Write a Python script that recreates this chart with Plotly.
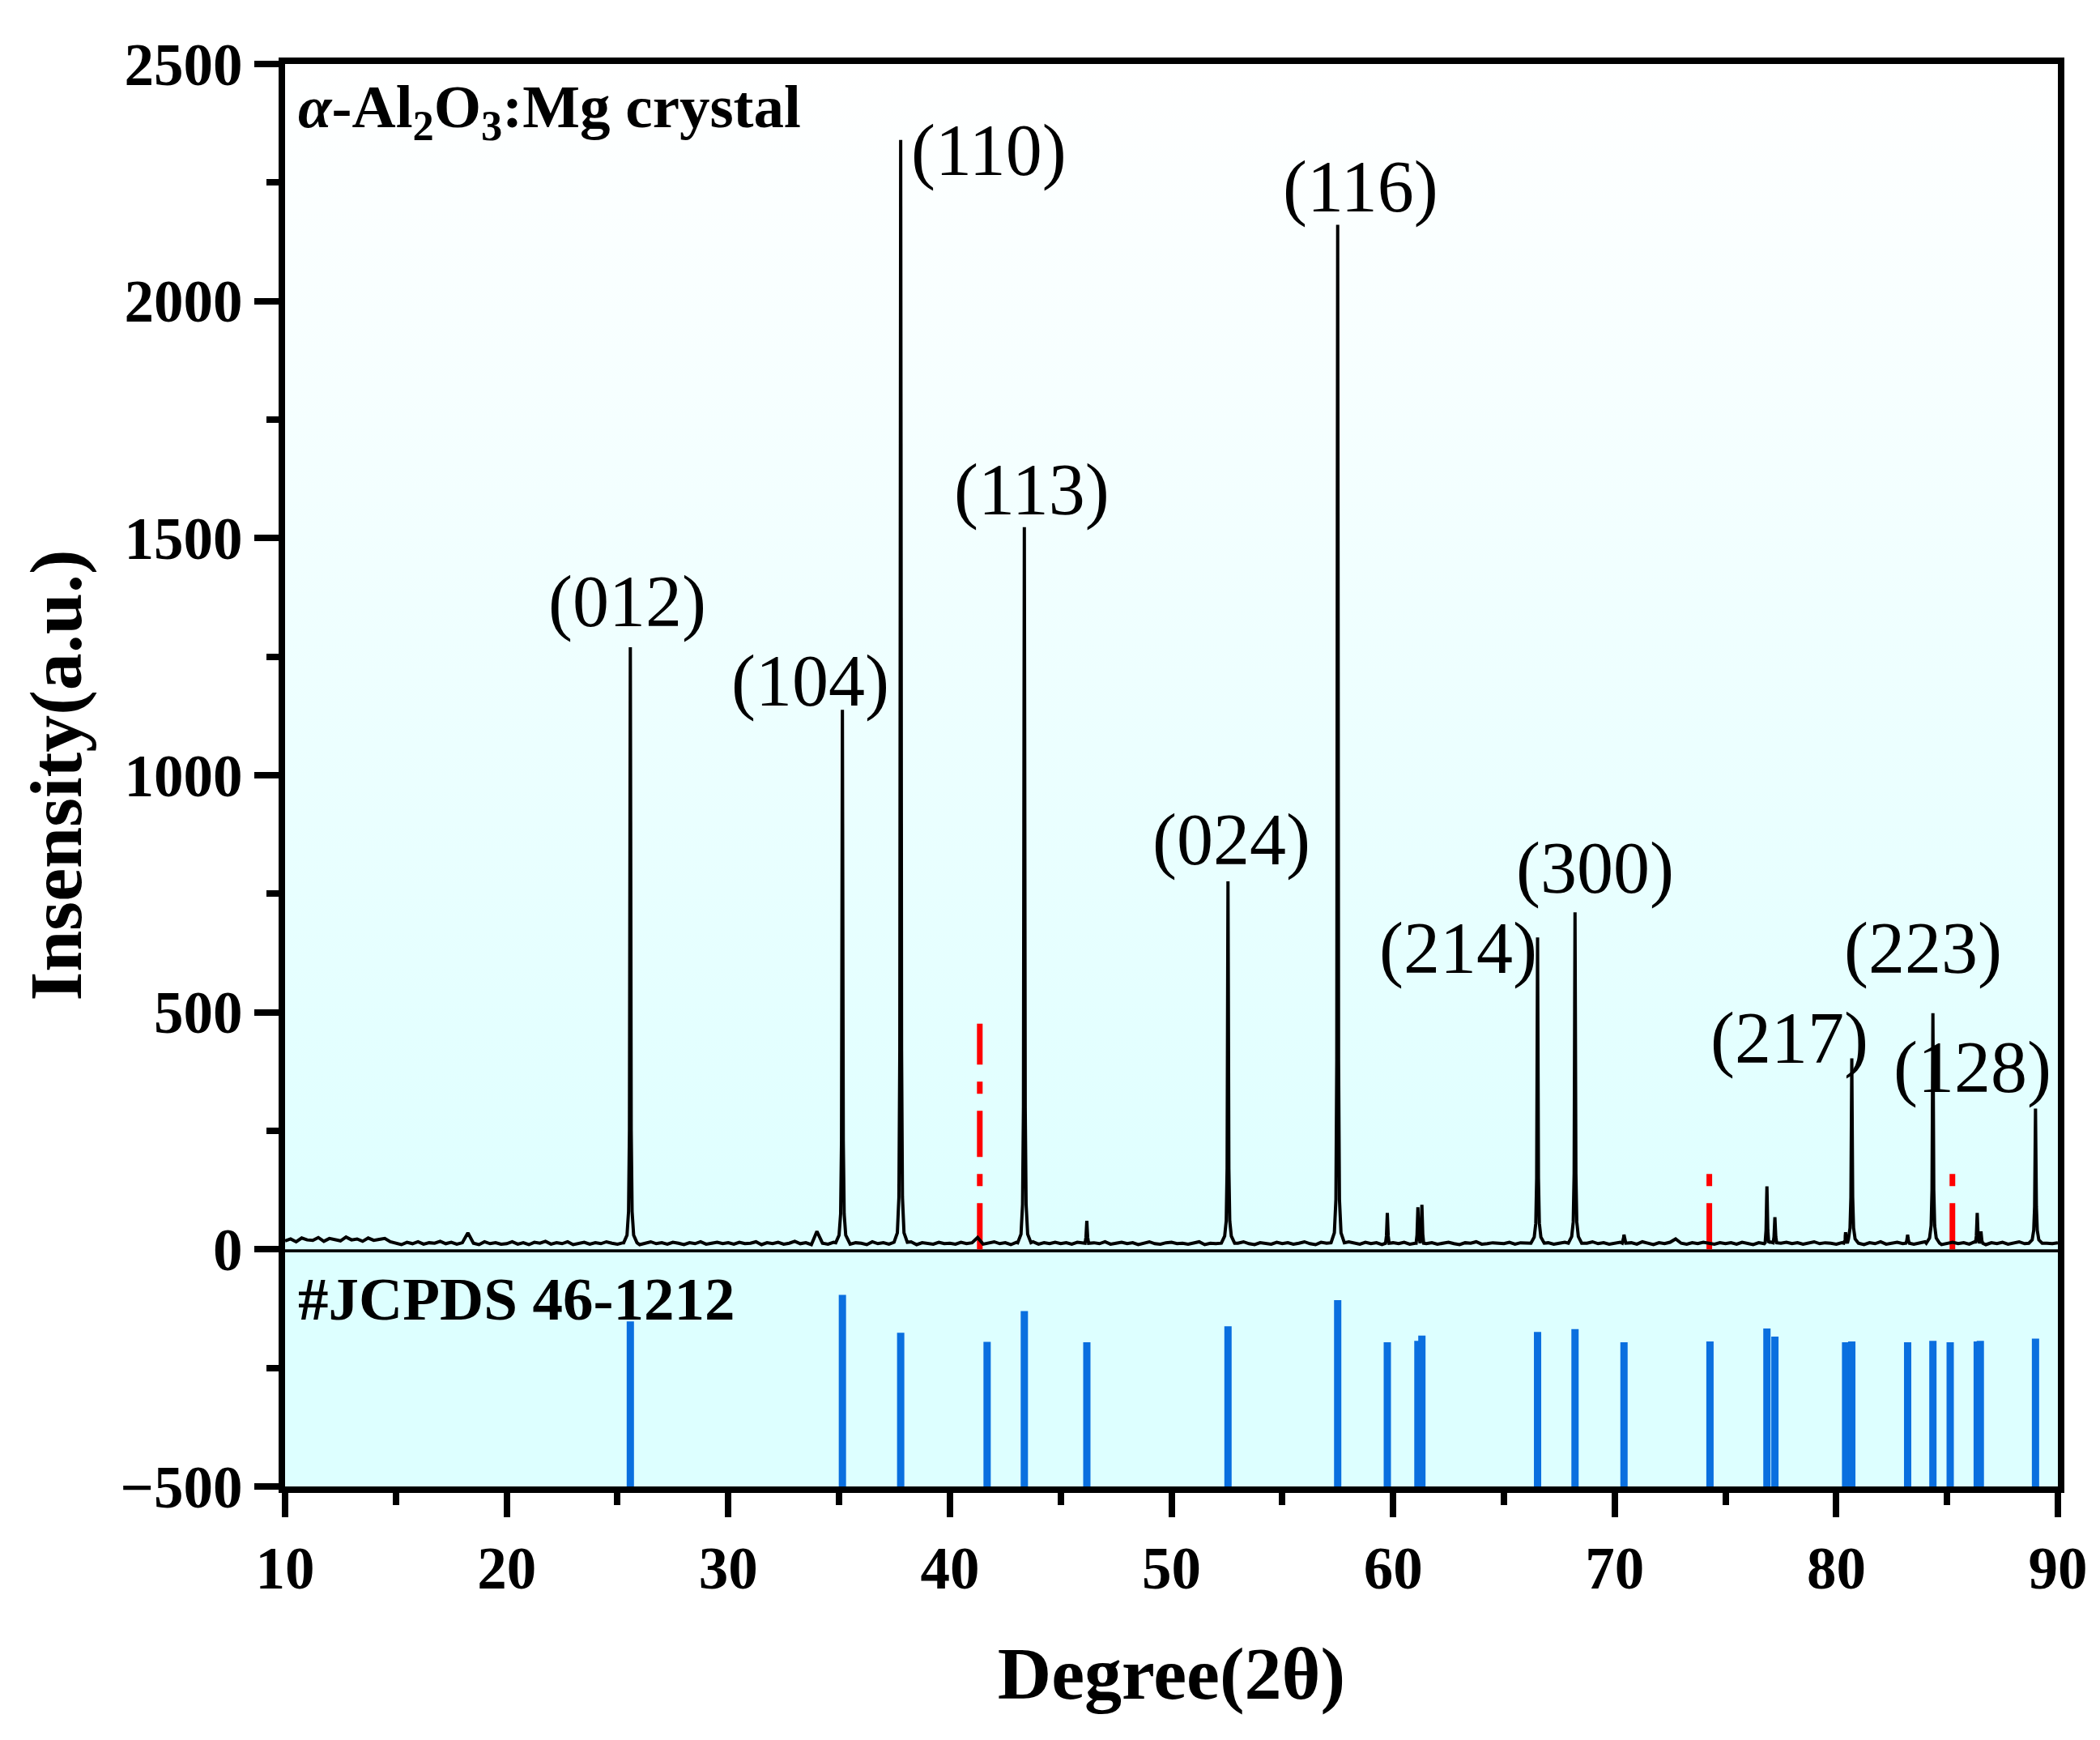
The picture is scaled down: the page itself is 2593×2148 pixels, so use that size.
"""XRD pattern of an alpha-Al2O3:Mg crystal with the JCPDS 46-1212 stick reference."""

import plotly.graph_objects as go

FONT = "Liberation Serif"

noise_start = 10.0
noise_step = 0.25
noise_counts = [
    18, 22, 16, 24, 20, 19, 25, 17, 23, 21, 18, 26, 20, 22, 17, 24, 19, 21, 23, 16,  # 10-15
    13, 10, 15, 12, 16, 11, 14, 13, 17, 12, 15, 11, 14, 35, 13, 10, 16, 12, 14, 11,  # 15-20
    12, 16, 11, 14, 10, 15, 13, 17, 11, 14, 12, 16, 10, 13, 15, 11, 14, 12, 16, 13,  # 20-25
    11, 14, 12, 15, 10, 13, 16, 12, 14, 11, 15, 13, 10, 14, 12, 16, 11, 13, 15, 12,  # 25-30
    14, 11, 15, 12, 13, 16, 10, 14, 12, 15, 11, 13, 17, 12, 14, 10, 38, 13, 11, 15,  # 30-35
    12, 15, 11, 14, 13, 10, 16, 12, 14, 11, 15, 13, 12, 16, 10, 14, 13, 11, 15, 12,  # 35-40
    13, 11, 15, 12, 14, 25, 11, 13, 16, 12, 14, 10, 15, 12, 13, 16, 11, 14, 12, 15,  # 40-45
    12, 14, 11, 15, 13, 10, 14, 12, 16, 11, 13, 15, 12, 14, 10, 13, 16, 12, 11, 14,  # 45-50
    15, 12, 13, 11, 14, 16, 10, 13, 12, 15, 11, 14, 13, 16, 12, 10, 14, 13, 11, 15,  # 50-55
    12, 14, 11, 13, 16, 12, 10, 15, 13, 11, 14, 12, 16, 13, 11, 15, 12, 14, 10, 13,  # 55-60
    14, 12, 15, 11, 13, 16, 12, 14, 11, 13, 15, 12, 10, 14, 13, 16, 11, 12, 14, 13,  # 60-65
    12, 15, 11, 14, 13, 10, 16, 12, 14, 11, 13, 15, 12, 14, 10, 13, 16, 12, 14, 11,  # 65-70
    13, 15, 12, 14, 11, 16, 13, 10, 14, 12, 15, 22, 13, 11, 14, 12, 15, 13, 11, 14,  # 70-75
    12, 14, 11, 15, 13, 10, 14, 12, 16, 11, 13, 15, 12, 14, 11, 13, 16, 12, 14, 13,  # 75-80
    11, 14, 12, 15, 13, 10, 14, 12, 16, 11, 13, 15, 12, 14, 11, 13, 16, 12, 14, 10,  # 80-85
    13, 15, 12, 14, 11, 16, 13, 10, 14, 12, 15, 11, 13, 16, 12, 14, 11, 15, 13, 12,  # 85-90
    14,
]

# strong reflections: profile sampled at fixed offsets around each centre
major_offsets = [-0.30, -0.15, -0.08, -0.04, -0.015, 0.0, 0.015, 0.04, 0.08, 0.15, 0.30]
major_peaks = {
    25.58: [14, 30, 80, 250, 900, 1270, 900, 250, 80, 30, 14],
    35.15: [14, 30, 75, 230, 800, 1138, 800, 230, 75, 30, 14],
    37.78: [15, 35, 110, 420, 1700, 2340, 1700, 420, 110, 35, 15],
    43.36: [14, 32, 95, 300, 1100, 1523, 1100, 300, 95, 32, 14],
    52.55: [13, 28, 60, 170, 560, 776, 560, 170, 60, 28, 13],
    57.50: [14, 35, 105, 400, 1550, 2161, 1550, 400, 105, 35, 14],
    66.52: [13, 26, 55, 150, 470, 658, 470, 150, 55, 26, 13],
    68.21: [13, 27, 58, 160, 510, 711, 510, 160, 58, 27, 13],
    80.70: [13, 22, 45, 110, 290, 403, 290, 110, 45, 22, 13],
    84.36: [13, 24, 50, 125, 360, 498, 360, 125, 50, 24, 13],
    88.99: [13, 20, 40, 90, 215, 297, 215, 90, 40, 20, 13],
}

# weak reflections
minor_offsets = [-0.08, -0.04, -0.015, 0.0, 0.015, 0.04, 0.08]
minor_peaks = {
    46.18: [13, 25, 45, 60, 45, 25, 13],
    59.74: [13, 28, 58, 77, 58, 28, 13],
    61.12: [13, 30, 66, 89, 66, 30, 13],
    61.30: [13, 32, 70, 94, 70, 32, 13],
    70.42: [13, 18, 25, 31, 25, 18, 13],
    76.87: [14, 40, 100, 133, 100, 40, 14],
    77.23: [14, 26, 52, 68, 52, 26, 14],
    80.42: [13, 18, 28, 36, 28, 18, 13],
    83.22: [13, 18, 25, 31, 25, 18, 13],
    86.36: [13, 28, 58, 77, 58, 28, 13],
    86.53: [13, 18, 30, 38, 30, 18, 13],
}

# impurity markers (red dash-dot)
marker_deg = [41.35, 74.27, 85.24]
marker_top = [476, 164, 167]

# JCPDS 46-1212 stick pattern (drawn down from -500)
ref_deg = [25.58, 35.15, 37.78, 41.68, 43.36, 46.18, 52.55, 57.50, 59.74, 61.12,
           61.30, 66.52, 68.21, 70.42, 74.30, 76.87, 77.23, 80.42, 80.70, 83.22,
           84.36, 85.14, 86.36, 86.50, 88.99]
ref_top = [-152, -96, -176, -195, -130, -196, -162, -107, -196, -193,
           -182, -174, -168, -196, -194, -167, -184, -196, -194, -196,
           -193, -196, -194, -193, -188]
ref_floor = -500

# hkl labels: text, x, y (centre)
hkl_text = ["(012)", "(104)", "(110)", "(113)", "(024)", "(116)",
            "(214)", "(300)", "(217)", "(223)", "(128)"]
hkl_x = [25.45, 33.7, 41.75, 43.7, 52.7, 58.55, 62.95, 69.1, 77.9, 83.9, 86.15]
hkl_y = [1366, 1199, 2318, 1602, 863, 2241, 634, 803, 445, 634, 384]

# --- assemble the scan -------------------------------------------------------
spans = []
points = []
for centre, counts in major_peaks.items():
    spans.append((centre + major_offsets[0], centre + major_offsets[-1]))
    points += [(centre + o, c) for o, c in zip(major_offsets, counts)]
for centre, counts in minor_peaks.items():
    spans.append((centre + minor_offsets[0], centre + minor_offsets[-1]))
    points += [(centre + o, c) for o, c in zip(minor_offsets, counts)]
for i, c in enumerate(noise_counts):
    x = noise_start + i * noise_step
    if not any(lo <= x <= hi for lo, hi in spans):
        points.append((x, c))
points.sort()
scan_x = [p[0] for p in points]
scan_y = [p[1] for p in points]

fig = go.Figure()

# gradient background of the upper panel
fig.add_trace(go.Scatter(
    x=[10, 90, 90, 10, 10], y=[0, 0, 2500, 2500, 0],
    mode="none", fill="toself",
    fillgradient=dict(type="vertical", start=0, stop=2500,
                      colorscale=[[0, "#DEFFFF"], [1, "#FFFFFF"]]),
    hoverinfo="skip", showlegend=False,
))

# reference sticks
sx, sy = [], []
for d, t in zip(ref_deg, ref_top):
    sx += [d, d, None]
    sy += [ref_floor, t, None]
fig.add_trace(go.Scatter(x=sx, y=sy, mode="lines",
                         line=dict(color="#0A6FDF", width=9),
                         showlegend=False, hoverinfo="skip"))

# red dash-dot markers
for d, t in zip(marker_deg, marker_top):
    fig.add_trace(go.Scatter(x=[d, d], y=[0, t], mode="lines",
                             line=dict(color="#FF0000", width=7,
                                       dash="57px,21px,15px,21px"),
                             showlegend=False, hoverinfo="skip"))

# measured pattern
fig.add_trace(go.Scatter(x=scan_x, y=scan_y, mode="lines",
                         line=dict(color="black", width=4),
                         showlegend=False))

for t, x, y in zip(hkl_text, hkl_x, hkl_y):
    fig.add_annotation(x=x, y=y, text=t, showarrow=False,
                       xanchor="center", yanchor="middle",
                       font=dict(family=FONT, size=90, color="black"))

fig.add_annotation(x=10.5, y=2401, text="<i>α</i>-Al<sub>2</sub>O<sub>3</sub>:Mg crystal",
                   showarrow=False, xanchor="left", yanchor="middle",
                   font=dict(family=FONT, size=75, color="black", weight="bold"))
fig.add_annotation(x=10.5, y=-105, text="#JCPDS 46-1212",
                   showarrow=False, xanchor="left", yanchor="middle",
                   font=dict(family=FONT, size=75, color="black", weight="bold"))

axis_common = dict(
    showline=True, linewidth=8, linecolor="black", mirror=True,
    ticks="outside", ticklen=30, tickwidth=8, tickcolor="black",
    showgrid=False,
    tickfont=dict(family=FONT, size=73, color="black", weight="bold"),
)

fig.update_xaxes(
    range=[10, 90], tick0=10, dtick=10, zeroline=False,
    minor=dict(dtick=5, ticks="outside", ticklen=15, tickwidth=8, tickcolor="black"),
    title=dict(text="Degree(2θ)", standoff=60,
               font=dict(family=FONT, size=92, color="black", weight="bold")),
    **axis_common,
)
fig.update_yaxes(
    range=[-500, 2500], tick0=0, dtick=500,
    zeroline=True, zerolinewidth=8, zerolinecolor="black",
    minor=dict(dtick=250, ticks="outside", ticklen=15, tickwidth=8, tickcolor="black"),
    title=dict(text="Insensity(a.u.)", standoff=20,
               font=dict(family=FONT, size=92, color="black", weight="bold")),
    **axis_common,
)

fig.update_layout(
    width=2593, height=2148,
    margin=dict(l=344, r=60, t=71, b=321),
    paper_bgcolor="white", plot_bgcolor="#DDFFFF",
    showlegend=False,
)

fig.write_html("out.html")
